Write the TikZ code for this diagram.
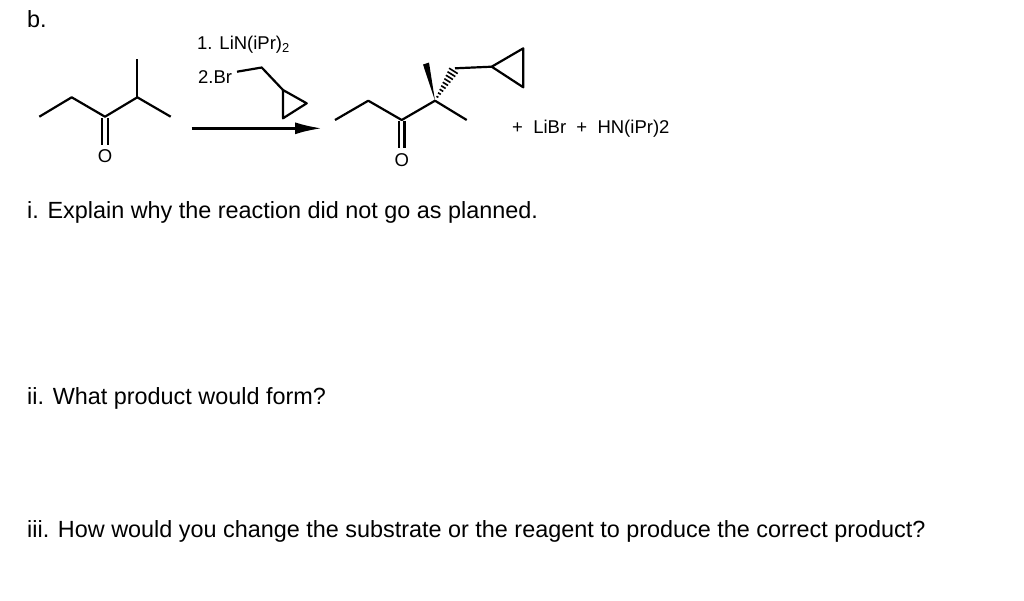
\documentclass[tikz,border=0pt]{standalone}
\usepackage{fontspec}
\setmainfont{Liberation Sans}
\usetikzlibrary{arrows.meta,calc}
\begin{document}
\begin{tikzpicture}[x=1pt,y=-1pt,bond/.style={line width=2.2pt,line join=round},
 q/.style={anchor=west,font=\fontsize{23.4}{25}\selectfont,inner sep=0},
 sm/.style={anchor=west,font=\fontsize{18.5}{20}\selectfont,inner sep=0}]
\useasboundingbox (0,0) rectangle (1024,600);
\node[q] (b) at (27,19) {b.};
% left ketone
\draw[bond] (39.3,116.7)--(71.7,97.3)--(105,116.7)--(137.3,97.3)--(170.7,116.7);
\draw[bond] (137.3,97.3)--(137.3,59.3);
\draw[bond] (102.3,118)--(102.3,145) (107.7,118)--(107.7,145);
\node[sm,anchor=center] (o1) at (105,156) {O};
% reagents
\node[sm] (r1) at (197,45) {1. LiN(iPr)\textsubscript{2}};
\node[sm] (r2) at (198,77) {2.Br};
\draw[bond] (237,71.7)--(261.7,67.5)--(283,90);
\draw[bond] (283,90)--(306.7,103.3)--(283,118.3)--cycle;
\draw[bond,line width=2.6pt,-{Latex[length=27pt,width=12pt]}] (191.7,128.3)--(322,128.3);
% product
\draw[bond] (335,120)--(368.3,100.7)--(401.7,120)--(435,100.7)--(466.7,120);
\draw[bond] (399,121)--(399,148.3) (404.4,121)--(404.4,148.3);
\node[sm,anchor=center] (o2) at (401.7,160) {O};
\fill (435,100.7)--(423,64.5)--(429,62.5)--cycle;
\foreach \t in {0.12,0.22,...,0.95}{
 \draw[line width=1.6pt] ($(435,100.7)!\t!(455,68.3)+({-0.85*(0.5+5*\t)},{-0.53*(0.5+5*\t)})$)--($(435,100.7)!\t!(455,68.3)+({0.85*(0.5+5*\t)},{0.53*(0.5+5*\t)})$);}
\draw[bond] (455,68.3)--(491.7,66.7);
\draw[bond] (491.7,66.7)--(523.3,48.3)--(523.3,87.3)--cycle;
\node[sm] (side) at (512,129) {+\ \ LiBr\ \ +\ \ HN(iPr)2};
\node[q] (qi) at (27,212) {i. Explain why the reaction did not go as planned.};
\node[q] (qii) at (27,398) {ii. What product would form?};
\node[q] (qiii) at (27,531) {iii. How would you change the substrate or the reagent to produce the correct product?};
\end{tikzpicture}
\end{document}
